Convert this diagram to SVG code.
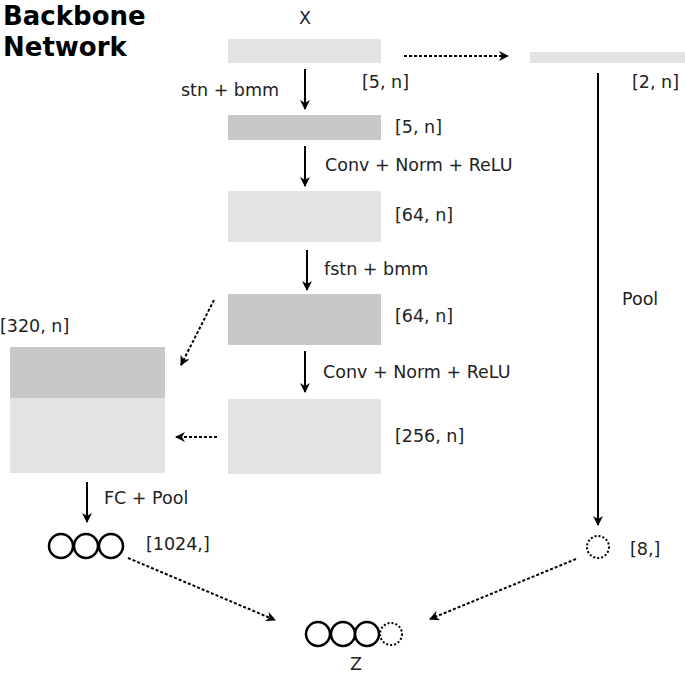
<svg xmlns="http://www.w3.org/2000/svg" width="685" height="677" viewBox="0 0 685 677">
<defs>
<style>
text{font-family:"DejaVu Sans",sans-serif;font-size:17.5px;fill:#222}
.t{font-weight:bold;font-size:26px;fill:#000}
.l{fill:#e3e3e3}.d{fill:#c8c8c8}
.s{stroke:#000;stroke-width:2;fill:none}
.ds{stroke:#000;stroke-width:2;fill:none;stroke-dasharray:3,2}
.c{stroke:#000;stroke-width:2.5;fill:#fff}
.cd{stroke:#000;stroke-width:2;fill:#fff;stroke-dasharray:2,2}
</style>
<marker id="a" viewBox="0 0 10 10" refX="9" refY="5" markerWidth="5" markerHeight="5" orient="auto"><path d="M0,0L10,5L0,10L3,5z" fill="#000"/></marker>
</defs>
<rect width="685" height="677" fill="#fff"/>
<text class="t" x="3" y="25">Backbone</text>
<text class="t" x="3" y="56">Network</text>
<g id="x"><text x="305" y="24" text-anchor="middle">X</text><rect class="l" x="228" y="39" width="153" height="24"/><text x="362" y="88">[5, n]</text></g>
<g id="xs"><rect class="l" x="530" y="52" width="155" height="11"/><text x="632" y="88">[2, n]</text></g>
<g id="b2"><rect class="d" x="228" y="115" width="153" height="25"/><text x="395" y="133">[5, n]</text></g>
<g id="b3"><rect class="l" x="228" y="191" width="153" height="51"/><text x="395" y="221">[64, n]</text></g>
<g id="b4"><rect class="d" x="228" y="294" width="153" height="51"/><text x="395" y="322">[64, n]</text></g>
<g id="b5"><rect class="l" x="228" y="399" width="153" height="75"/><text x="395" y="442">[256, n]</text></g>
<g id="cat"><rect class="d" x="10" y="347" width="155" height="51"/><rect class="l" x="10" y="398" width="155" height="75"/><text x="0" y="332">[320, n]</text></g>
<g id="g"><circle class="c" cx="61" cy="546" r="12"/><circle class="c" cx="86" cy="546" r="12"/><circle class="c" cx="111" cy="546" r="12"/><text x="146" y="550">[1024,]</text></g>
<g id="p"><circle class="cd" cx="598" cy="547" r="11"/><text x="630" y="555">[8,]</text></g>
<g id="z"><circle class="c" cx="318" cy="634" r="12"/><circle class="c" cx="343" cy="634" r="12"/><circle class="c" cx="367" cy="634" r="12"/><circle class="cd" cx="391" cy="634" r="11"/><text x="356" y="670" text-anchor="middle">Z</text></g>
<g id="connectors">
<line class="s" x1="305" y1="69" x2="305" y2="109" marker-end="url(#a)"/><text x="181" y="96">stn + bmm</text>
<line class="s" x1="305" y1="146" x2="305" y2="186" marker-end="url(#a)"/><text x="325" y="171">Conv + Norm + ReLU</text>
<line class="s" x1="307" y1="250" x2="307" y2="290" marker-end="url(#a)"/><text x="324" y="275">fstn + bmm</text>
<line class="s" x1="305" y1="351" x2="305" y2="392" marker-end="url(#a)"/><text x="323" y="378">Conv + Norm + ReLU</text>
<line class="ds" x1="404" y1="56" x2="508" y2="56" marker-end="url(#a)"/>
<line class="s" x1="598" y1="73" x2="598" y2="525" marker-end="url(#a)"/><text x="622" y="305">Pool</text>
<line class="ds" x1="214" y1="300" x2="181" y2="365" marker-end="url(#a)"/>
<line class="ds" x1="217" y1="437" x2="176" y2="437" marker-end="url(#a)"/>
<line class="s" x1="87" y1="482" x2="87" y2="522" marker-end="url(#a)"/><text x="104" y="504">FC + Pool</text>
<line class="ds" x1="128" y1="558" x2="275" y2="620" marker-end="url(#a)"/>
<line class="ds" x1="576" y1="559" x2="430" y2="619" marker-end="url(#a)"/>
</g>
</svg>
